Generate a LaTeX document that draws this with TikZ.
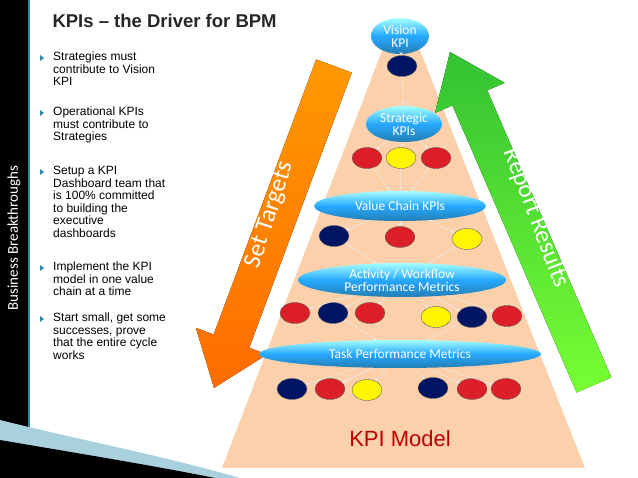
\documentclass[tikz,border=0pt]{standalone}
\usepackage{fontspec}
\setmainfont{Liberation Sans}
\newfontfamily\carl{Carlito}
\usetikzlibrary{calc,shapes.geometric}
\definecolor{navy}{RGB}{0,20,100}
\definecolor{kred}{RGB}{220,30,40}
\definecolor{kyel}{RGB}{255,245,0}
\definecolor{peach}{RGB}{251,208,170}
\definecolor{teal}{RGB}{40,140,170}
\tikzset{
  lvl/.style={ellipse,inner sep=0pt,top color=cyan!35!white,bottom color=teal!90!blue,
    middle color=cyan!60!blue!85,draw=none,text=white,font=\carl\fontsize{13.5}{13}\selectfont,align=center},
  dot/.style={ellipse,minimum width=30pt,minimum height=21pt,draw=black!60,line width=0.4pt},
  conn/.style={->,>=stealth,white!85!gray,line width=0.5pt},
  bul/.style={anchor=north west,align=left,font=\fontsize{12}{12.5}\selectfont,inner sep=0pt},
  big/.style={text=white,font=\carl\fontsize{25}{25}\selectfont},
}
\begin{document}
\begin{tikzpicture}[x=1pt,y=-1pt]
\useasboundingbox (0,0) rectangle (638,478);
\fill[white] (0,0) rectangle (638,478);
% side bar
\fill[black] (0,0) rectangle (28,478);
\draw[teal,line width=1.5pt] (29,0) -- (29,478);
\node[rotate=90,text=white,font=\carl\fontsize{15}{15}\selectfont] (side) at (14,238) {Business Breakthroughs};
% bottom swoosh
\fill[teal!40!white] (0,420) .. controls (80,440) and (160,455) .. (240,478) -- (0,478) -- cycle;
\fill[black] (0,440) .. controls (70,452) and (150,465) .. (215,478) -- (0,478) -- cycle;
% title and bullets
\node[anchor=west,font=\bfseries\fontsize{18.5}{20}\selectfont,text=black!85] (title) at (49,21) {KPIs -- the Driver for BPM};
\foreach \yy/\txt in {52/{Strategies must\\contribute to Vision\\KPI},
                      107/{Operational KPIs\\must contribute to\\Strategies},
                      166/{Setup a KPI\\Dashboard team that\\is 100\% committed\\to building the\\executive\\dashboards},
                      262/{Implement the KPI\\model in one value\\chain at a time},
                      313/{Start small, get some\\successes, prove\\that the entire cycle\\works}}{
  \fill[teal] (40,\yy+3) -- (44,\yy+6) -- (40,\yy+9) -- cycle;
  \node[bul] at (53,\yy) {\txt};
}
% pyramid
\fill[peach] (390,30) -- (412,30) -- (585,468) -- (222,468) -- cycle;
\node[text=red!75!black,font=\fontsize{22}{22}\selectfont] (model) at (400,439) {KPI Model};
% arrows
\coordinate (os) at (334,66);
\coordinate (oe) at (214,388);
\coordinate (oh) at ($(oe)!50pt!(os)$);
\fill[top color=orange!80!yellow,bottom color=orange!85!red]
  ($(os)!19pt!90:(oe)$) -- ($(oh)!19pt!-90:(os)$) -- ($(oh)!38pt!-90:(os)$) -- (oe)
  -- ($(oh)!38pt!90:(os)$) -- ($(oh)!19pt!90:(os)$) -- ($(os)!19pt!-90:(oe)$) -- cycle;
\coordinate (gs) at (594,385);
\coordinate (ge) at (450,52);
\coordinate (gh) at ($(ge)!50pt!(gs)$);
\fill[top color=green!70!black!80,bottom color=green!55!lime!80]
  ($(gs)!19pt!90:(ge)$) -- ($(gh)!19pt!-90:(gs)$) -- ($(gh)!38pt!-90:(gs)$) -- (ge)
  -- ($(gh)!38pt!90:(gs)$) -- ($(gh)!19pt!90:(gs)$) -- ($(gs)!19pt!-90:(ge)$) -- cycle;
\node[big,rotate=72] (set) at (270,215) {Set Targets};
\node[big,rotate=-69] (rep) at (536,218) {Report Results};
% levels
\node[lvl,minimum width=58pt,minimum height=36pt] (vis) at (400,36) {Vision\\KPI};
\node[dot,fill=navy] (d0) at (402,66) {};
\node[lvl,minimum width=76pt,minimum height=36pt] (str) at (404,124) {Strategic\\KPIs};
\node[dot,fill=kred] (d11) at (367,158) {};
\node[dot,fill=kyel] (d12) at (401,158) {};
\node[dot,fill=kred] (d13) at (436,158) {};
\node[lvl,minimum width=172pt,minimum height=30pt] (vc) at (400,206) {Value Chain KPIs};
\node[dot,fill=navy] (d21) at (334,236) {};
\node[dot,fill=kred] (d22) at (400,237) {};
\node[dot,fill=kyel] (d23) at (467,239) {};
\node[lvl,minimum width=208pt,minimum height=34pt] (act) at (402,280) {Activity / Workflow\\Performance Metrics};
\node[dot,fill=kred] (d31) at (295,313) {};
\node[dot,fill=navy] (d32) at (333,313) {};
\node[dot,fill=kred] (d33) at (370,313) {};
\node[dot,fill=kyel] (d34) at (436,317) {};
\node[dot,fill=navy] (d35) at (472,317) {};
\node[dot,fill=kred] (d36) at (507,316) {};
\node[lvl,minimum width=282pt,minimum height=28pt] (task) at (400,354) {Task Performance Metrics};
\node[dot,fill=navy] (d41) at (292,389) {};
\node[dot,fill=kred] (d42) at (330,389) {};
\node[dot,fill=kyel] (d43) at (367,390) {};
\node[dot,fill=navy] (d44) at (433,388) {};
\node[dot,fill=kred] (d45) at (472,389) {};
\node[dot,fill=kred] (d46) at (506,389) {};
% connectors
\foreach \a/\b in {vis/d0,d0/str,str/d11,str/d12,str/d13,d11/vc,d12/vc,d13/vc,
  vc/d21,vc/d22,vc/d23,d21/act,d23/act,act/d31,act/d32,act/d33,act/d34,act/d35,act/d36,
  d32/task,d35/task,task/d41,task/d42,task/d43,task/d44,task/d45,task/d46}
  \draw[conn] (\a) -- (\b);
\end{tikzpicture}
\end{document}
